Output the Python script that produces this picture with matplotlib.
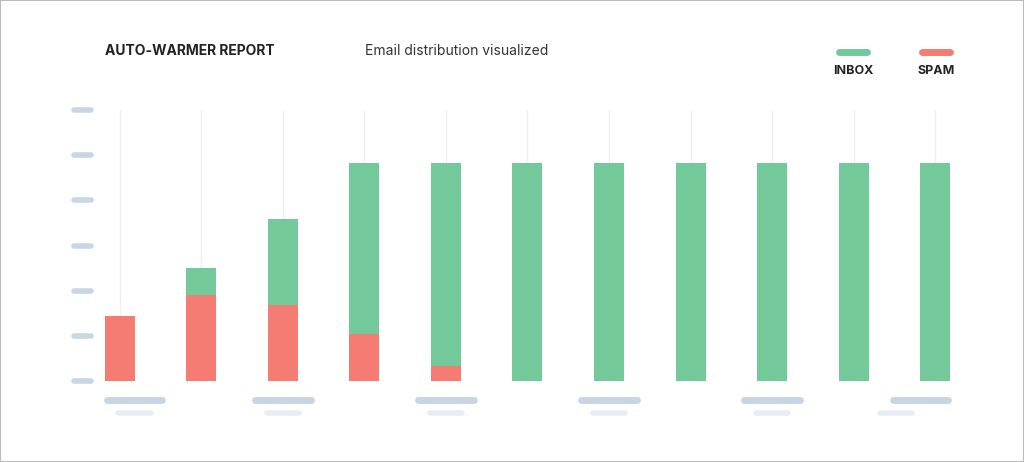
import numpy as np
import matplotlib
matplotlib.use("Agg")
import matplotlib.pyplot as plt
from matplotlib.patches import Rectangle

plt.rcParams['font.family'] = ['Inter', 'DejaVu Sans']

# values in tick units (placeholder axis, 0..6)
spam = [1.44, 1.90, 1.68, 1.04, 0.33, 0, 0, 0, 0, 0, 0]
total = [1.44, 2.50, 3.58, 4.82, 4.82, 4.82, 4.82, 4.82, 4.82, 4.82, 4.82]
inbox = [t - s for t, s in zip(total, spam)]
yticks = [0, 1, 2, 3, 4, 5, 6]
xlabel_pos = [0.18, 2, 4, 6, 8, 9.82]

green = "#74C99A"
red = "#F47C72"
dash = "#C8D5E2"
dash_light = "#E8EDF3"

W, H = 1024, 462
fig = plt.figure(figsize=(W / 100, H / 100), dpi=100)
fig.patches.append(Rectangle((0, 0), 1, 1, transform=fig.transFigure,
                             fill=False, edgecolor="#BBBBBB", linewidth=1.5))

def fx(px): return px / W
def fy(py): return 1 - py / H

ax = fig.add_axes([fx(60), fy(430), fx(965) - fx(60), fy(100) - fy(430)])
ax.set_xlim(-0.736, 10.368)
ax.set_ylim(-1.08, 6.22)
ax.axis("off")

x = np.arange(len(total))
bw = 30 / 81.5
ax.vlines(x, 0, 6, color="#EEEEEE", linewidth=1, zorder=0)
ax.bar(x, spam, bw, color=red, zorder=2)
ax.bar(x, inbox, bw, bottom=spam, color=green, zorder=2)

for y in yticks:
    ax.plot([-0.57, -0.36], [y, y], color=dash, linewidth=4,
            solid_capstyle="round", clip_on=False, zorder=1)
for p in xlabel_pos:
    ax.plot([p - 0.34, p + 0.34], [-0.42, -0.42], color=dash, linewidth=5,
            solid_capstyle="round", clip_on=False)
    c = p if 0 < p < 9.5 else (p - 0.15 if p < 1 else p - 0.3)
    ax.plot([c - 0.2, c + 0.2], [-0.7, -0.7], color=dash_light, linewidth=4,
            solid_capstyle="round", clip_on=False)

fig.text(fx(105), fy(51), "AUTO-WARMER REPORT", fontsize=10, fontweight="bold",
         color="#222222", va="center")
fig.text(fx(365), fy(51), "Email distribution visualized", fontsize=10,
         color="#333333", va="center")

for cx, col, lab in [(853, green, "INBOX"), (936, red, "SPAM")]:
    fig.lines.append(plt.Line2D([fx(cx - 14), fx(cx + 14)], [fy(52), fy(52)],
                                transform=fig.transFigure, color=col,
                                linewidth=5, solid_capstyle="round"))
    fig.text(fx(cx), fy(71), lab, fontsize=9, fontweight="bold",
             color="#222222", ha="center", va="center")

fig.savefig("out.png", dpi=100, facecolor="white")
